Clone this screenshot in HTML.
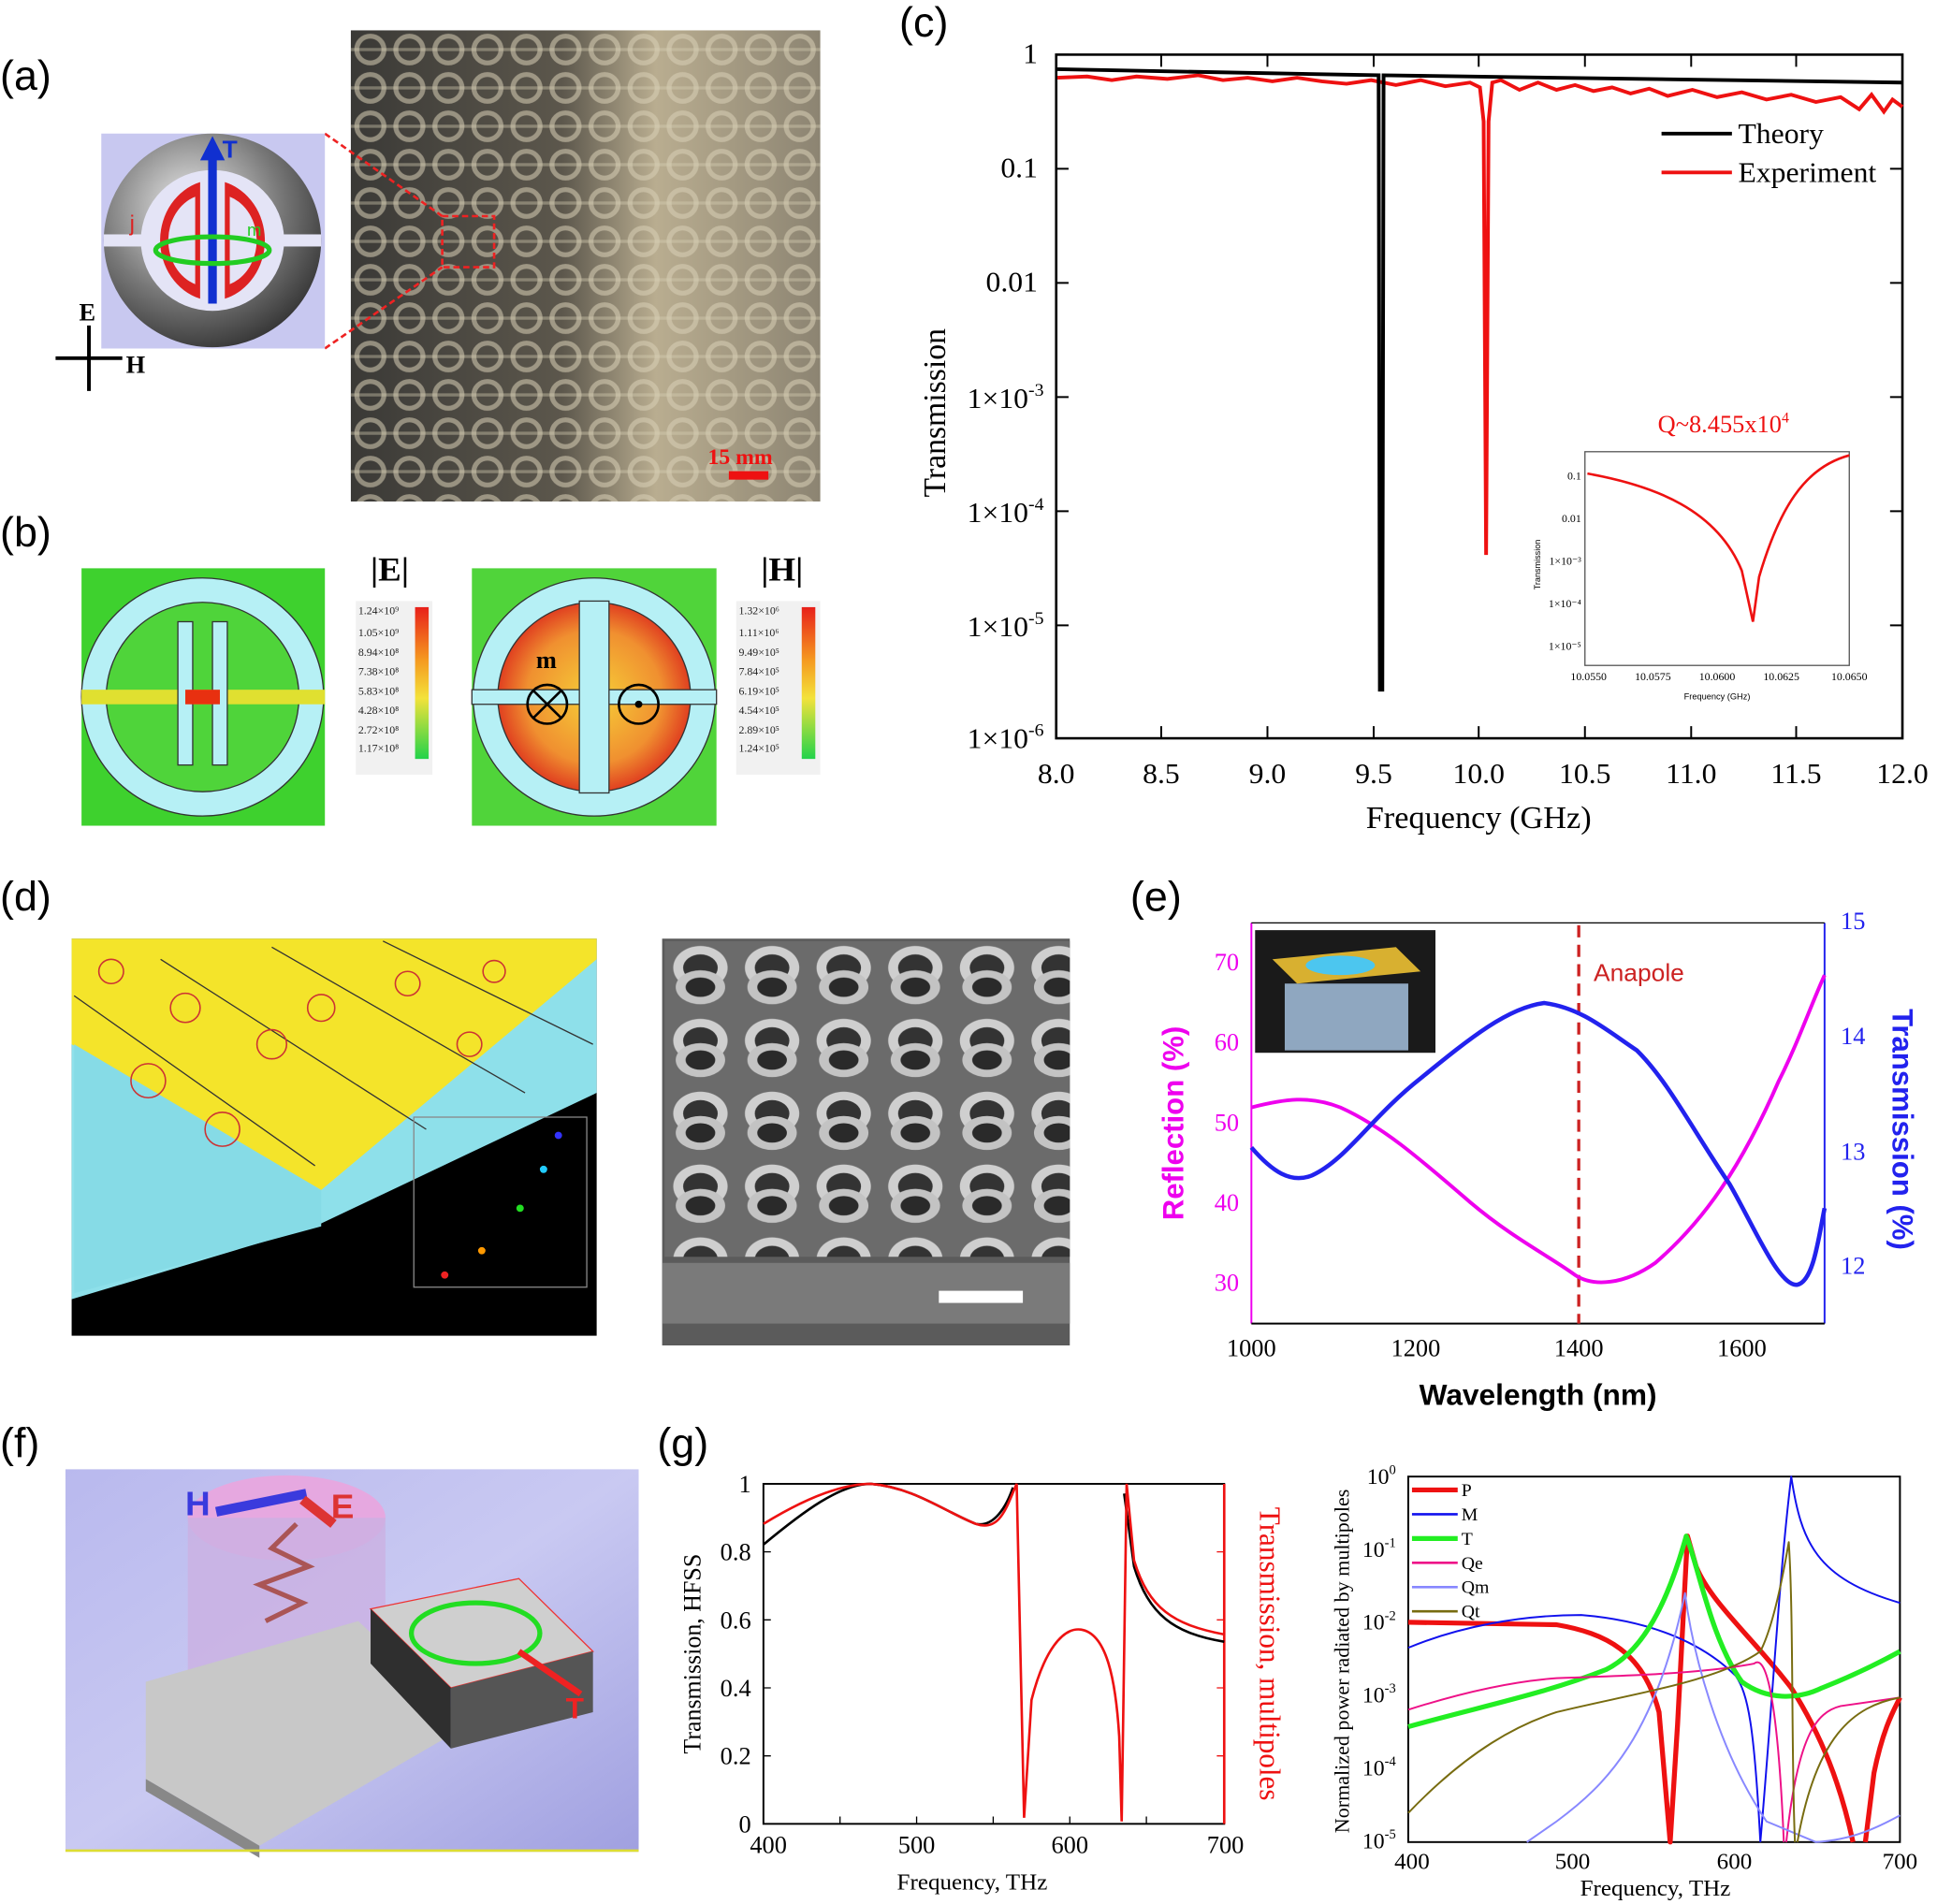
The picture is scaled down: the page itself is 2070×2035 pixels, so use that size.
<!DOCTYPE html>
<html><head><meta charset="utf-8"><style>
html,body{margin:0;padding:0;background:#fff}
svg{display:block}
text{font-family:"Liberation Serif",serif}
.s{font-family:"Liberation Sans",sans-serif}
</style></head><body>
<svg width="2070" height="2035" viewBox="0 0 1568 1568" preserveAspectRatio="none" xmlns="http://www.w3.org/2000/svg">
<defs>
<linearGradient id="ph" x1="0" x2="1" y1="0" y2="0"><stop offset="0" stop-color="#3a3936"/><stop offset="0.45" stop-color="#5c574c"/><stop offset="0.65" stop-color="#b9ad90"/><stop offset="1" stop-color="#8c8472"/></linearGradient>
<pattern id="lat" width="31.6" height="31.6" patternUnits="userSpaceOnUse" x="284" y="25">
<circle cx="15.8" cy="15.8" r="11" fill="none" stroke="#d8cfb5" stroke-opacity="0.55" stroke-width="4"/>
<rect x="0" y="14.5" width="31.6" height="2.6" fill="#d8cfb5" fill-opacity="0.4"/>
</pattern>
<radialGradient id="ring" cx="0.4" cy="0.35" r="0.7"><stop offset="0" stop-color="#eee"/><stop offset="0.6" stop-color="#777"/><stop offset="1" stop-color="#333"/></radialGradient>
<linearGradient id="cb" x1="0" x2="0" y1="0" y2="1"><stop offset="0" stop-color="#e8201a"/><stop offset="0.35" stop-color="#f59a20"/><stop offset="0.6" stop-color="#f3e23a"/><stop offset="1" stop-color="#22d34a"/></linearGradient>
<radialGradient id="hf" cx="0.5" cy="0.5" r="0.5"><stop offset="0" stop-color="#f6d038"/><stop offset="0.7" stop-color="#f09030"/><stop offset="1" stop-color="#e04020"/></radialGradient>
<pattern id="sem" width="58" height="60" patternUnits="userSpaceOnUse" x="538" y="775">
<rect width="58" height="60" fill="#6b6b6b"/>
<ellipse cx="29" cy="22" rx="22" ry="18" fill="#cfcfcf"/><ellipse cx="29" cy="22" rx="14" ry="11" fill="#333"/>
<ellipse cx="29" cy="38" rx="20" ry="14" fill="#c3c3c3"/><ellipse cx="29" cy="38" rx="12" ry="8" fill="#2a2a2a"/>
</pattern>
<linearGradient id="fbg" x1="0" x2="1" y1="0" y2="1"><stop offset="0" stop-color="#b9b9ee"/><stop offset="0.5" stop-color="#c9c9f2"/><stop offset="1" stop-color="#a0a0e0"/></linearGradient>
</defs>

<!-- (a) -->
<text x="0" y="74" font-size="34" class="s">(a)</text>
<rect x="284" y="25" width="380" height="388" fill="url(#ph)"/>
<rect x="284" y="25" width="380" height="388" fill="url(#lat)"/>
<rect x="358" y="178" width="42" height="42" fill="none" stroke="#e22" stroke-width="2" stroke-dasharray="5,3"/>
<line x1="263" y1="110" x2="358" y2="178" stroke="#e22" stroke-width="2" stroke-dasharray="5,3"/>
<line x1="263" y1="287" x2="358" y2="220" stroke="#e22" stroke-width="2" stroke-dasharray="5,3"/>
<rect x="82" y="110" width="181" height="177" fill="#c8c8f0"/>
<circle cx="172" cy="198" r="88" fill="url(#ring)"/>
<circle cx="172" cy="198" r="58" fill="#e4e4f6"/>
<rect x="84" y="193" width="176" height="10" fill="#e4e4f6"/>
<path d="M162 150 A45 50 0 0 0 162 246 Z" fill="#d22"/>
<path d="M158 162 A32 38 0 0 0 158 234 Z" fill="#e4e4f6"/>
<path d="M182 150 A45 50 0 0 1 182 246 Z" fill="#d22"/>
<path d="M186 162 A32 38 0 0 1 186 234 Z" fill="#e4e4f6"/>
<line x1="172" y1="250" x2="172" y2="125" stroke="#1030d0" stroke-width="7"/>
<polygon points="172,112 162,132 182,132" fill="#1030d0"/>
<ellipse cx="172" cy="206" rx="46" ry="11" fill="none" stroke="#2c2" stroke-width="4"/>
<text x="180" y="130" font-size="20" fill="#1030d0" font-weight="bold" class="s">T</text>
<text x="105" y="190" font-size="18" fill="#d22" class="s">j</text>
<text x="200" y="194" font-size="14" fill="#2c2" class="s">m</text>
<line x1="72" y1="268" x2="72" y2="322" stroke="#000" stroke-width="3"/>
<line x1="45" y1="295" x2="99" y2="295" stroke="#000" stroke-width="3"/>
<text x="64" y="264" font-size="20" font-weight="bold">E</text>
<text x="102" y="307" font-size="20" font-weight="bold">H</text>
<rect x="590" y="388" width="32" height="7" fill="#e11"/>
<text x="573" y="382" font-size="18" fill="#e11" font-weight="bold">15 mm</text>

<!-- (b) -->
<text x="0" y="450" font-size="34" class="s">(b)</text>
<rect x="66" y="468" width="197" height="212" fill="#3ed12e"/>
<circle cx="164" cy="574" r="98" fill="#b6f0f5" stroke="#333"/>
<circle cx="164" cy="574" r="78" fill="#4fd43a" stroke="#333"/>
<rect x="66" y="568" width="197" height="12" fill="#e0e030"/>
<rect x="144" y="512" width="12" height="118" fill="#b6f0f5" stroke="#333"/>
<rect x="172" y="512" width="12" height="118" fill="#b6f0f5" stroke="#333"/>
<rect x="150" y="568" width="28" height="12" fill="#e83010"/>
<text x="300" y="478" font-size="28" font-weight="bold">|E|</text>
<rect x="288" y="495" width="62" height="143" fill="#f1f1f1"/>
<rect x="336" y="500" width="11" height="125" fill="url(#cb)"/>
<rect x="382" y="468" width="198" height="212" fill="#50d43a"/>
<circle cx="481" cy="574" r="98" fill="#b6f0f5" stroke="#333"/>
<circle cx="481" cy="574" r="78" fill="url(#hf)" stroke="#333"/>
<rect x="382" y="568" width="198" height="12" fill="#b6f0f5" stroke="#333"/>
<rect x="469" y="495" width="24" height="158" fill="#b6f0f5" stroke="#333"/>
<circle cx="443" cy="580" r="16" fill="none" stroke="#000" stroke-width="2"/>
<path d="M432 569 L454 591 M454 569 L432 591" stroke="#000" stroke-width="2"/>
<circle cx="517" cy="580" r="16" fill="none" stroke="#000" stroke-width="2"/>
<circle cx="517" cy="580" r="3" fill="#000"/>
<text x="434" y="550" font-size="20" font-weight="bold">m</text>
<text x="616" y="478" font-size="28" font-weight="bold">|H|</text>
<rect x="596" y="495" width="68" height="143" fill="#f1f1f1"/>
<rect x="649" y="500" width="11" height="125" fill="url(#cb)"/>
<g font-size="9" class="s" fill="#222">
<text x="290" y="506">1.24×10⁹</text><text x="290" y="524">1.05×10⁹</text><text x="290" y="540">8.94×10⁸</text><text x="290" y="556">7.38×10⁸</text><text x="290" y="572">5.83×10⁸</text><text x="290" y="588">4.28×10⁸</text><text x="290" y="604">2.72×10⁸</text><text x="290" y="619">1.17×10⁸</text>
<text x="598" y="506">1.32×10⁶</text><text x="598" y="524">1.11×10⁶</text><text x="598" y="540">9.49×10⁵</text><text x="598" y="556">7.84×10⁵</text><text x="598" y="572">6.19×10⁵</text><text x="598" y="588">4.54×10⁵</text><text x="598" y="604">2.89×10⁵</text><text x="598" y="619">1.24×10⁵</text>
</g>

<!-- (c) -->
<text x="728" y="30" font-size="34" class="s">(c)</text>
<rect x="855" y="45" width="685" height="563" fill="none" stroke="#000" stroke-width="2"/>
<g font-size="24" text-anchor="end">
<text x="840" y="52">1</text><text x="840" y="146">0.1</text><text x="840" y="240">0.01</text>
<text x="845" y="336">1×10<tspan font-size="15" dy="-10">-3</tspan></text>
<text x="845" y="430">1×10<tspan font-size="15" dy="-10">-4</tspan></text>
<text x="845" y="524">1×10<tspan font-size="15" dy="-10">-5</tspan></text>
<text x="845" y="616">1×10<tspan font-size="15" dy="-10">-6</tspan></text>
</g>
<g stroke="#000" stroke-width="1.5">
<path d="M855 45h10M855 139h10M855 233h10M855 327h10M855 421h10M855 515h10M1540 139h-10M1540 233h-10M1540 327h-10M1540 421h-10M1540 515h-10"/>
<path d="M940 608v-10M1026 608v-10M1112 608v-10M1197 608v-10M1283 608v-10M1369 608v-10M1454 608v-10M940 45v10M1026 45v10M1112 45v10M1197 45v10M1283 45v10M1369 45v10M1454 45v10"/>
</g>
<g font-size="24" text-anchor="middle">
<text x="855" y="645">8.0</text><text x="940" y="645">8.5</text><text x="1026" y="645">9.0</text><text x="1112" y="645">9.5</text><text x="1197" y="645">10.0</text><text x="1283" y="645">10.5</text><text x="1369" y="645">11.0</text><text x="1454" y="645">11.5</text><text x="1540" y="645">12.0</text>
</g>
<text x="1197" y="682" font-size="26" text-anchor="middle">Frequency (GHz)</text>
<text x="765" y="340" font-size="26" text-anchor="middle" transform="rotate(-90 765 340)">Transmission</text>
<path d="M856 64 L880 63 L900 66 L920 63 L945 65 L970 62 L990 66 L1010 64 L1030 67 L1050 64 L1070 67 L1090 69 L1110 66 L1130 70 L1150 66 L1170 71 L1190 68 L1198 72 L1201 100 L1203 457 L1205 100 L1208 68 L1215 66 L1230 74 L1245 68 L1260 74 L1275 70 L1290 75 L1305 72 L1320 77 L1335 73 L1350 79 L1370 74 L1390 80 L1410 76 L1430 82 L1450 78 L1470 84 L1490 80 L1505 90 L1515 78 L1525 92 L1532 82 L1540 88" fill="none" stroke="#e11" stroke-width="3"/>
<path d="M856 57 L1116 62 L1117 568 L1119 568 L1120 62 L1540 68" fill="none" stroke="#000" stroke-width="3"/>
<line x1="1345" y1="110" x2="1402" y2="110" stroke="#000" stroke-width="3"/>
<line x1="1345" y1="142" x2="1402" y2="142" stroke="#e11" stroke-width="3"/>
<text x="1407" y="118" font-size="24">Theory</text>
<text x="1407" y="150" font-size="24">Experiment</text>
<text x="1342" y="356" font-size="20" fill="#e11">Q~8.455x10<tspan font-size="12" dy="-8">4</tspan></text>
<rect x="1283" y="372" width="214" height="176" fill="none" stroke="#555" stroke-width="1"/>
<g font-size="9" class="s" text-anchor="end"><text x="1280" y="395">0.1</text><text x="1280" y="430">0.01</text><text x="1280" y="465">1×10⁻³</text><text x="1280" y="500">1×10⁻⁴</text><text x="1280" y="535">1×10⁻⁵</text></g>
<g font-size="9" class="s" text-anchor="middle"><text x="1286" y="560">10.0550</text><text x="1338" y="560">10.0575</text><text x="1390" y="560">10.0600</text><text x="1442" y="560">10.0625</text><text x="1497" y="560">10.0650</text></g>
<text x="1390" y="576" font-size="7" class="s" text-anchor="middle">Frequency (GHz)</text>
<text x="1247" y="465" font-size="7" class="s" text-anchor="middle" transform="rotate(-90 1247 465)">Transmission</text>
<path d="M1285 390 C1340 400 1390 420 1410 470 L1419 512 L1424 475 C1440 420 1460 385 1497 375" fill="none" stroke="#e11" stroke-width="2"/>

<!-- (d) -->
<text x="0" y="750" font-size="34" class="s">(d)</text>
<rect x="58" y="773" width="425" height="327" fill="#000"/>
<polygon points="58,773 483,773 483,900 255,1010 58,1070" fill="#8ee0ea"/>
<polygon points="58,773 483,773 483,790 260,980 58,860" fill="#f4e42a"/>
<polygon points="60,860 260,980 260,1010 60,1065" fill="#86dbe6"/>
<g fill="none" stroke="#333" stroke-width="1">
<path d="M60 820 L255 960 M130 790 L345 930 M220 780 L425 900 M310 775 L480 860"/>
</g>
<g fill="none" stroke="#c33" stroke-width="1.2">
<circle cx="120" cy="890" r="14"/><circle cx="180" cy="930" r="14"/><circle cx="150" cy="830" r="12"/><circle cx="220" cy="860" r="12"/><circle cx="260" cy="830" r="11"/><circle cx="330" cy="810" r="10"/><circle cx="380" cy="860" r="10"/><circle cx="400" cy="800" r="9"/><circle cx="90" cy="800" r="10"/>
</g>
<rect x="335" y="920" width="140" height="140" fill="none" stroke="#888"/>
<circle cx="360" cy="1050" r="3" fill="#e22"/><circle cx="390" cy="1030" r="3" fill="#f90"/><circle cx="421" cy="995" r="3" fill="#2d2"/><circle cx="440" cy="963" r="3" fill="#2cf"/><circle cx="452" cy="935" r="3" fill="#33f"/>
<rect x="536" y="773" width="330" height="335" fill="#5b5b5b"/>
<rect x="538" y="775" width="328" height="260" fill="url(#sem)"/>
<rect x="536" y="1040" width="330" height="50" fill="#7a7a7a"/>
<rect x="760" y="1063" width="68" height="10" fill="#fff"/>

<!-- (e) -->
<text x="915" y="750" font-size="34" class="s">(e)</text>
<line x1="1013" y1="760" x2="1013" y2="1090" stroke="#e0e" stroke-width="1.5"/>
<line x1="1477" y1="760" x2="1477" y2="1090" stroke="#22e" stroke-width="1.5"/>
<line x1="1013" y1="1090" x2="1477" y2="1090" stroke="#000" stroke-width="1.5"/>
<line x1="1013" y1="760" x2="1477" y2="760" stroke="#000" stroke-width="1"/>
<g font-size="20" class="s" fill="#e0e" text-anchor="end">
<text x="1003" y="799">70</text><text x="1003" y="865">60</text><text x="1003" y="931">50</text><text x="1003" y="997">40</text><text x="1003" y="1063">30</text></g>
<g font-size="20" class="s" fill="#22e">
<text x="1490" y="765">15</text><text x="1490" y="860">14</text><text x="1490" y="955">13</text><text x="1490" y="1049">12</text></g>
<g font-size="20" class="s" text-anchor="middle">
<text x="1013" y="1117">1000</text><text x="1146" y="1117">1200</text><text x="1278" y="1117">1400</text><text x="1410" y="1117">1600</text></g>
<text x="1245" y="1157" font-size="24" class="s" font-weight="bold" text-anchor="middle">Wavelength (nm)</text>
<text x="958" y="925" font-size="24" class="s" font-weight="bold" fill="#e0e" text-anchor="middle" transform="rotate(-90 958 925)">Reflection (%)</text>
<text x="1532" y="930" font-size="24" class="s" font-weight="bold" fill="#22e" text-anchor="middle" transform="rotate(90 1532 930)">Transmission (%)</text>
<line x1="1278" y1="762" x2="1278" y2="1090" stroke="#c22" stroke-width="2.5" stroke-dasharray="10,6"/>
<text x="1290" y="808" font-size="20" class="s" fill="#c22">Anapole</text>
<path d="M1013 912 C1040 905 1060 902 1085 912 C1120 928 1150 955 1190 990 C1225 1020 1255 1035 1275 1050 C1290 1060 1315 1058 1340 1040 C1380 1005 1410 960 1440 890 C1455 860 1465 830 1477 803" fill="none" stroke="#e0e" stroke-width="3"/>
<path d="M1013 945 C1030 965 1045 975 1062 968 C1090 955 1110 920 1150 888 C1190 855 1220 830 1250 826 C1280 830 1300 848 1325 865 C1350 890 1370 930 1400 975 C1420 1010 1440 1060 1455 1058 C1468 1055 1472 1020 1477 995" fill="none" stroke="#22e" stroke-width="3.5"/>
<rect x="1016" y="766" width="146" height="101" fill="#1a1a1a"/>
<rect x="1040" y="810" width="100" height="55" fill="#8fa7c0"/>
<polygon points="1030,790 1130,780 1150,800 1050,810" fill="#d8b030"/>
<ellipse cx="1085" cy="795" rx="28" ry="8" fill="#4cc6ef"/>

<!-- (f) -->
<text x="0" y="1200" font-size="34" class="s">(f)</text>
<rect x="53" y="1210" width="464" height="315" fill="url(#fbg)"/>
<ellipse cx="232" cy="1250" rx="80" ry="35" fill="#e6a8e0"/>
<rect x="152" y="1250" width="160" height="170" fill="#cbb0e2" fill-opacity="0.8"/>
<polygon points="118,1385 290,1335 380,1420 210,1520 118,1465" fill="#c8c8c8"/>
<polygon points="118,1465 210,1520 210,1530 118,1475" fill="#888"/>
<polygon points="300,1325 420,1300 480,1360 365,1390" fill="#cfcfcf" stroke="#e33"/>
<polygon points="300,1325 365,1390 365,1440 300,1370" fill="#2f2f2f"/>
<polygon points="365,1390 480,1360 480,1410 365,1440" fill="#555"/>
<ellipse cx="385" cy="1345" rx="52" ry="25" fill="none" stroke="#2d2" stroke-width="4"/>
<line x1="175" y1="1245" x2="248" y2="1230" stroke="#3a3add" stroke-width="8"/>
<line x1="245" y1="1235" x2="270" y2="1255" stroke="#d33" stroke-width="8"/>
<line x1="420" y1="1360" x2="470" y2="1395" stroke="#e22" stroke-width="5"/>
<text x="150" y="1248" font-size="28" class="s" font-weight="bold" fill="#3a3add">H</text>
<text x="268" y="1250" font-size="28" class="s" font-weight="bold" fill="#d33">E</text>
<text x="458" y="1415" font-size="24" class="s" font-weight="bold" fill="#e22">T</text>
<path d="M240 1255 L220 1275 L250 1290 L210 1305 L245 1320 L215 1335" fill="none" stroke="#a55" stroke-width="4"/>
<line x1="53" y1="1524" x2="517" y2="1524" stroke="#dd3" stroke-width="2"/>

<!-- (g) left -->
<text x="532" y="1200" font-size="34" class="s">(g)</text>
<rect x="618" y="1222" width="373" height="280" fill="none" stroke="#000" stroke-width="1.5"/>
<line x1="991" y1="1222" x2="991" y2="1502" stroke="#e11" stroke-width="2"/>
<g font-size="20" class="s" text-anchor="end">
<text x="608" y="1229">1</text><text x="608" y="1285">0.8</text><text x="608" y="1341">0.6</text><text x="608" y="1397">0.4</text><text x="608" y="1453">0.2</text><text x="608" y="1509">0</text></g>
<g stroke="#000"><path d="M618 1278h6M618 1334h6M618 1390h6M618 1446h6M680 1502v-6M742 1502v-6M804 1502v-6M866 1502v-6M928 1502v-6"/></g>
<g stroke="#e11"><path d="M991 1278h-6M991 1334h-6M991 1390h-6M991 1446h-6"/></g>
<g font-size="20" class="s" text-anchor="middle">
<text x="622" y="1526">400</text><text x="742" y="1526">500</text><text x="866" y="1526">600</text><text x="992" y="1526">700</text></g>
<text x="787" y="1556" font-size="19" text-anchor="middle">Frequency, THz</text>
<text x="567" y="1362" font-size="20" text-anchor="middle" transform="rotate(-90 567 1362)">Transmission, HFSS</text>
<text x="1020" y="1362" font-size="24" fill="#e11" text-anchor="middle" transform="rotate(90 1020 1362)">Transmission, multipoles</text>
<path d="M618 1272 C650 1245 680 1222 705 1222 C740 1225 765 1245 790 1255 C805 1258 815 1240 820 1225" fill="none" stroke="#000" stroke-width="2"/>
<path d="M910 1230 L918 1290 C930 1330 950 1345 991 1352" fill="none" stroke="#000" stroke-width="2"/>
<path d="M618 1255 C650 1235 680 1222 705 1222 C740 1225 765 1245 790 1255 C810 1262 815 1240 823 1222 L829 1497 L835 1400 C845 1360 860 1340 875 1342 C895 1345 903 1380 906 1430 L908 1500 L912 1222 L918 1285 C930 1325 950 1338 991 1346" fill="none" stroke="#e11" stroke-width="2"/>

<!-- (g) right -->
<rect x="1140" y="1216" width="398" height="301" fill="none" stroke="#000" stroke-width="1.5"/>
<g font-size="18" text-anchor="end">
<text x="1130" y="1222">10<tspan font-size="11" dy="-8">0</tspan></text>
<text x="1130" y="1282">10<tspan font-size="11" dy="-8">-1</tspan></text>
<text x="1130" y="1342">10<tspan font-size="11" dy="-8">-2</tspan></text>
<text x="1130" y="1402">10<tspan font-size="11" dy="-8">-3</tspan></text>
<text x="1130" y="1462">10<tspan font-size="11" dy="-8">-4</tspan></text>
<text x="1130" y="1522">10<tspan font-size="11" dy="-8">-5</tspan></text></g>
<g font-size="19" text-anchor="middle">
<text x="1143" y="1539">400</text><text x="1273" y="1539">500</text><text x="1404" y="1539">600</text><text x="1538" y="1539">700</text></g>
<text x="1340" y="1561" font-size="19" text-anchor="middle">Frequency, THz</text>
<text x="1092" y="1368" font-size="17" text-anchor="middle" transform="rotate(-90 1092 1368)">Normalized power radiated by multipoles</text>
<g fill="none" stroke-linejoin="round">
<path d="M1140 1336 L1260 1338 C1300 1345 1330 1360 1343 1410 L1352 1517 L1358 1420 L1366 1265 L1373 1290 C1385 1320 1420 1350 1450 1390 C1475 1430 1490 1470 1500 1517 M1510 1517 L1517 1460 C1525 1420 1535 1405 1538 1398" stroke="#e11" stroke-width="4"/>
<path d="M1140 1357 C1180 1340 1230 1330 1280 1330 C1340 1335 1380 1355 1405 1380 C1415 1395 1420 1420 1425 1517 M1425 1517 C1435 1400 1440 1300 1450 1216 C1458 1270 1470 1300 1538 1320" stroke="#11e" stroke-width="1.5"/>
<path d="M1140 1422 C1200 1405 1250 1395 1300 1375 C1330 1360 1350 1320 1365 1265 C1375 1290 1385 1350 1410 1385 C1430 1400 1455 1400 1475 1390 C1500 1380 1520 1370 1538 1360" stroke="#2e2" stroke-width="4"/>
<path d="M1140 1408 C1180 1395 1220 1385 1260 1382 C1320 1380 1380 1378 1420 1370 C1432 1360 1440 1420 1444 1517 M1446 1517 C1455 1430 1470 1410 1490 1405 L1538 1398" stroke="#e18" stroke-width="1.5"/>
<path d="M1236 1517 L1260 1500 C1300 1470 1340 1430 1364 1312 C1370 1360 1390 1440 1430 1500 L1470 1517 C1500 1515 1520 1505 1538 1495" stroke="#88f" stroke-width="1.5"/>
<path d="M1140 1493 C1190 1440 1230 1420 1260 1410 C1320 1395 1390 1385 1425 1360 C1435 1340 1443 1300 1448 1270 C1452 1330 1450 1450 1453 1517 M1455 1517 C1470 1430 1500 1405 1538 1398" stroke="#786c10" stroke-width="1.5"/>
</g>
<g font-size="15">
<line x1="1143" y1="1227" x2="1180" y2="1227" stroke="#e11" stroke-width="4"/><text x="1183" y="1232">P</text>
<line x1="1143" y1="1247" x2="1180" y2="1247" stroke="#11e" stroke-width="2"/><text x="1183" y="1252">M</text>
<line x1="1143" y1="1267" x2="1180" y2="1267" stroke="#2e2" stroke-width="4"/><text x="1183" y="1272">T</text>
<line x1="1143" y1="1287" x2="1180" y2="1287" stroke="#e18" stroke-width="2"/><text x="1183" y="1292">Qe</text>
<line x1="1143" y1="1307" x2="1180" y2="1307" stroke="#88f" stroke-width="2"/><text x="1183" y="1312">Qm</text>
<line x1="1143" y1="1327" x2="1180" y2="1327" stroke="#786c10" stroke-width="2"/><text x="1183" y="1332">Qt</text>
</g>
</svg>
</body></html>
